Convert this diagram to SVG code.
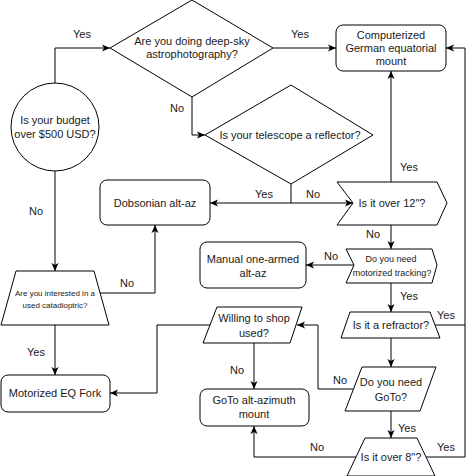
<svg xmlns="http://www.w3.org/2000/svg" width="474" height="476" viewBox="0 0 474 476">
<defs>
<marker id="arr" markerUnits="userSpaceOnUse" markerWidth="10" markerHeight="10" viewBox="0 0 10 10" refX="9" refY="5" orient="auto">
<path d="M1,1.5 L9,5 L1,8.5 L3,5 Z" fill="#000"/>
</marker>
<style>
.s{fill:#fff;stroke:#000;stroke-width:1}
.c{fill:none;stroke:#000;stroke-width:1}
.a{marker-end:url(#arr)}
text{font-family:"Liberation Sans",Arial,sans-serif;font-size:11px;fill:#1a1a1a;text-anchor:middle;dominant-baseline:central}
.sm{font-size:9px}
.xs{font-size:8px}
</style>
</defs>
<rect width="474" height="476" fill="#fff"/>
<g id="connectors">
<path class="c a" d="M55,83 V48 H110"/>
<path class="c a" d="M273,48 H336"/>
<path class="c a" d="M192,97 V135 H205"/>
<path class="c" d="M291,184 V203"/>
<path class="c a" d="M291,203 H210"/>
<path class="c a" d="M291,203 H353"/>
<path class="c a" d="M391,182 V71"/>
<path class="c a" d="M391,225 V249"/>
<path class="c a" d="M354,265 H306"/>
<path class="c a" d="M391,283 V312"/>
<path class="c a" d="M435,325 H465 V48 H446"/>
<path class="c a" d="M391,338 V367"/>
<path class="c a" d="M353,389 H318 V325 H297"/>
<path class="c a" d="M254,343 V389"/>
<path class="c a" d="M210,325 H157 V393 H110"/>
<path class="c a" d="M391,411 V438"/>
<path class="c a" d="M356,457 H254 V426"/>
<path class="c" d="M426,457 H465 V325"/>
<path class="c a" d="M55,171 V271"/>
<path class="c a" d="M100,293 H155 V225"/>
<path class="c a" d="M55,325 V375"/>
<text x="82" y="34">Yes</text>
<text x="300" y="34">Yes</text>
<text x="177" y="108">No</text>
<text x="409" y="167">Yes</text>
<text x="264" y="194">Yes</text>
<text x="313" y="194">No</text>
<text x="373" y="234">No</text>
<text x="331" y="256">No</text>
<text x="409" y="296">Yes</text>
<text x="446" y="315">Yes</text>
<text x="340" y="380">No</text>
<text x="237" y="370">No</text>
<text x="407" y="428">Yes</text>
<text x="317" y="447">No</text>
<text x="446" y="447">Yes</text>
<text x="36" y="211">No</text>
<text x="127" y="283">No</text>
<text x="36" y="352">Yes</text>
</g>
<g id="budget">
<circle class="s" cx="55" cy="127" r="44"/>
<text x="55" y="120">Is your budget</text>
<text x="55" y="134">over $500 USD?</text>
</g>
<g id="deepsky">
<polygon class="s" points="192,0 273,48 192,97 110,48"/>
<text x="192" y="41">Are you doing deep-sky</text>
<text x="192" y="54">astrophotography?</text>
</g>
<g id="gem">
<rect class="s" x="336" y="25" width="110" height="46" rx="7"/>
<text x="391" y="35">Computerized</text>
<text x="391" y="48">German equatorial</text>
<text x="391" y="61">mount</text>
</g>
<g id="reflector">
<polygon class="s" points="291,85 373,135 291,184 205,135"/>
<text x="290" y="135">Is your telescope a reflector?</text>
</g>
<g id="dobsonian">
<rect class="s" x="100" y="180" width="110" height="45" rx="7"/>
<text x="155" y="203">Dobsonian alt-az</text>
</g>
<g id="over12">
<polygon class="s" points="337,182 437,182 447,203 437,225 337,225 353,203"/>
<text x="392" y="203">Is it over 12"?</text>
</g>
<g id="tracking">
<polygon class="s" points="346,249 432,249 437,265 432,283 346,283 354,265"/>
<text class="sm" x="391" y="259">Do you need</text>
<text class="sm" x="392" y="273">motorized tracking?</text>
</g>
<g id="manual">
<rect class="s" x="200" y="242" width="106" height="46" rx="7"/>
<text x="253" y="259">Manual one-armed</text>
<text x="253" y="273">alt-az</text>
</g>
<g id="refractor">
<polygon class="s" points="350,312 430,312 440,338 341,338"/>
<text x="391" y="325">Is it a refractor?</text>
</g>
<g id="goto">
<polygon class="s" points="362,367 436,367 420,411 345,411"/>
<text x="391" y="382">Do you need</text>
<text x="391" y="397">GoTo?</text>
</g>
<g id="willing">
<polygon class="s" points="217,307 302,307 290,343 203,343"/>
<text x="254" y="318">Willing to shop</text>
<text x="254" y="333">used?</text>
</g>
<g id="gotoaltaz">
<rect class="s" x="200" y="389" width="109" height="37" rx="7"/>
<text x="254" y="400">GoTo alt-azimuth</text>
<text x="254" y="414">mount</text>
</g>
<g id="over8">
<polygon class="s" points="365,438 417,438 435,476 347,476"/>
<text x="391" y="457">Is it over 8"?</text>
</g>
<g id="catadioptric">
<polygon class="s" points="16,271 94,271 109,325 1,325"/>
<text class="xs" x="55" y="293">Are you interested in a</text>
<text class="xs" x="55" y="305">used catadioptric?</text>
</g>
<g id="eqfork">
<rect class="s" x="1" y="375" width="109" height="37" rx="7"/>
<text x="55" y="393">Motorized EQ Fork</text>
</g>
</svg>
